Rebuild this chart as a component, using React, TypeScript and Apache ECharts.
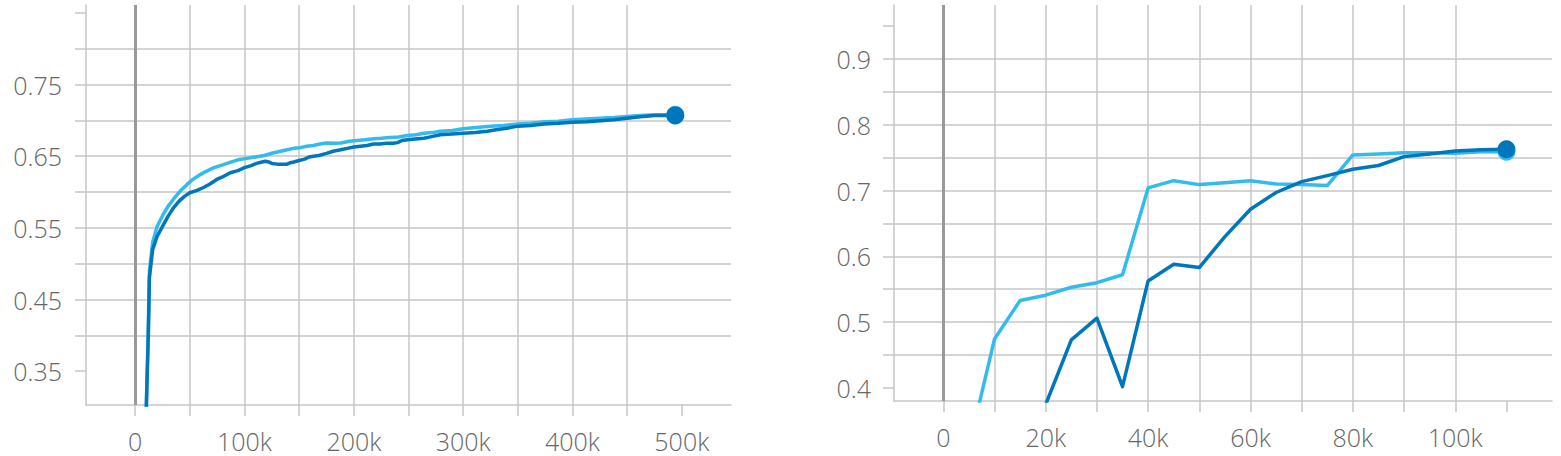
import React, { useEffect, useRef } from "react";
import * as echarts from "echarts";

// Steps are in thousands (k)
const leftDark: [number, number][] = [
  [10, 0.29], [12, 0.40], [13, 0.48], [16, 0.52], [20, 0.538], [25, 0.552], [30, 0.566], [35, 0.578],
  [40, 0.587], [45, 0.594], [50, 0.599], [56, 0.602], [62, 0.606], [68, 0.611], [75, 0.618], [81, 0.622],
  [87, 0.627], [94, 0.630], [100, 0.634], [106, 0.637], [111, 0.640], [116, 0.642], [119, 0.643],
  [122, 0.642], [125, 0.640], [130, 0.639], [135, 0.639], [139, 0.639], [142, 0.641], [145, 0.642],
  [150, 0.644], [155, 0.646], [159, 0.649], [163, 0.650], [168, 0.651], [175, 0.654], [181, 0.657],
  [188, 0.659], [194, 0.661], [200, 0.663], [206, 0.664], [212, 0.665], [218, 0.667], [224, 0.667],
  [230, 0.668], [236, 0.668], [240, 0.669], [244, 0.672], [249, 0.673], [256, 0.674], [264, 0.675],
  [270, 0.677], [279, 0.680], [290, 0.681], [300, 0.682], [311, 0.683], [322, 0.685], [330, 0.687],
  [340, 0.689], [350, 0.692], [362, 0.693], [374, 0.695], [387, 0.696], [400, 0.6976], [413, 0.698],
  [426, 0.6996], [438, 0.701], [450, 0.703], [462, 0.705], [475, 0.707], [485, 0.707], [494, 0.707],
];

const leftLight: [number, number][] = [
  [10, 0.29], [12, 0.41], [13, 0.49], [16, 0.53], [20, 0.552], [25, 0.567], [30, 0.580], [35, 0.590],
  [41, 0.601], [47, 0.610], [53, 0.618], [59, 0.624], [65, 0.629], [72, 0.634], [78, 0.637], [86, 0.641],
  [94, 0.645], [102, 0.647], [110, 0.649], [118, 0.651], [126, 0.6546], [133, 0.657], [139, 0.659],
  [145, 0.661], [151, 0.662], [157, 0.664], [163, 0.665], [169, 0.667], [175, 0.6685], [182, 0.668],
  [188, 0.6685], [196, 0.671], [203, 0.672], [210, 0.673], [218, 0.6745], [225, 0.675], [233, 0.676],
  [241, 0.677], [249, 0.679], [257, 0.680], [264, 0.682], [272, 0.683], [279, 0.685], [290, 0.686],
  [300, 0.6885], [312, 0.690], [325, 0.692], [337, 0.693], [350, 0.695], [362, 0.696], [375, 0.698],
  [387, 0.699], [400, 0.701], [412, 0.702], [425, 0.703], [438, 0.704], [450, 0.7056], [462, 0.707],
  [475, 0.708], [485, 0.708], [494, 0.708],
];

const rightSteps = [5, 10, 15, 20, 25, 30, 35, 40, 45, 50, 55, 60, 65, 70, 75, 80, 85, 90, 95, 100, 105, 110];
const rightLight = [
  0.31, 0.4745, 0.533, 0.541, 0.553, 0.560, 0.572, 0.704, 0.715, 0.709, 0.712, 0.715, 0.710, 0.709,
  0.7075, 0.754, 0.7555, 0.7575, 0.7575, 0.7567, 0.759, 0.759,
];
const rightDark = [
  null, null, null, 0.375, 0.473, 0.506, 0.402, 0.5626, 0.588, 0.583, 0.630, 0.6716, 0.697, 0.7135,
  0.7227, 0.7323, 0.738, 0.7515, 0.7556, 0.760, 0.762, 0.7627,
];

const leftXTicks = [0, 50, 100, 150, 200, 250, 300, 350, 400, 450, 500];
const leftXLabels = [0, 100, 200, 300, 400, 500];
const leftYTicks = [0.35, 0.4, 0.45, 0.5, 0.55, 0.6, 0.65, 0.7, 0.75, 0.8, 0.85];
const leftYLabels = [0.35, 0.45, 0.55, 0.65, 0.75];
const rightXTicks = [0, 10, 20, 30, 40, 50, 60, 70, 80, 90, 100, 110];
const rightXLabels = [0, 20, 40, 60, 80, 100];
const rightYTicks = [0.4, 0.45, 0.5, 0.55, 0.6, 0.65, 0.7, 0.75, 0.8, 0.85, 0.9, 0.95];
const rightYLabels = [0.4, 0.5, 0.6, 0.7, 0.8, 0.9];

const DARK = "#0077bb";
const LIGHT = "#33bbee";
const GRID = "#c6c6c6";
const ZERO = "#999999";
const TEXT = "#666666";

const labelFont = {
  fontFamily: "'Open Sans', Roboto, 'Liberation Sans', sans-serif",
  fontWeight: 300 as any,
  fontSize: 25,
  color: TEXT,
};

function xAxis(gridIndex: number, min: number, max: number, step: number, ticks: number[], labels: number[]) {
  return {
    type: "value",
    gridIndex,
    min,
    max,
    minInterval: step,
    maxInterval: step,
    axisLine: { show: true, onZero: false, lineStyle: { color: GRID, width: 1.5 } },
    axisTick: { show: true, inside: false, length: 11, customValues: ticks, lineStyle: { color: GRID, width: 1.5 } },
    splitLine: { show: true, showMinLine: false, showMaxLine: false, lineStyle: { color: GRID, width: 1.5 } },
    axisLabel: {
      ...labelFont,
      margin: 23,
      customValues: labels,
      formatter: (v: number) => (v === 0 ? "0" : `${Math.round(v)}k`),
    },
  };
}

function yAxis(gridIndex: number, min: number, max: number, ticks: number[], labels: number[], digits: number, margin: number) {
  return {
    type: "value",
    gridIndex,
    min,
    max,
    minInterval: 0.05,
    maxInterval: 0.05,
    axisLine: { show: true, onZero: false, lineStyle: { color: GRID, width: 1.5 } },
    axisTick: { show: true, inside: false, length: 11, customValues: ticks, lineStyle: { color: GRID, width: 1.5 } },
    splitLine: { show: true, showMinLine: false, showMaxLine: false, lineStyle: { color: GRID, width: 1.5 } },
    axisLabel: {
      ...labelFont,
      margin,
      customValues: labels,
      formatter: (v: number) => v.toFixed(digits),
    },
  };
}

const zeroLine = {
  silent: true,
  symbol: ["none", "none"],
  label: { show: false },
  lineStyle: { color: ZERO, width: 3, type: "solid", opacity: 1 },
  emphasis: { disabled: true },
  data: [{ xAxis: 0 }],
};

export default function App() {
  const ref = useRef<HTMLDivElement>(null);
  useEffect(() => {
    if (!ref.current) return;
    const chart = echarts.init(ref.current, undefined, { renderer: "svg" });
    const rightLightData = rightSteps.map((s, i) => [s, rightLight[i]]);
    const rightDarkData = rightSteps.map((s, i) => [s, rightDark[i]]);
    const lastL = leftLight[leftLight.length - 1];
    const lastD = leftDark[leftDark.length - 1];
    const lastRL = rightLightData[rightLightData.length - 1];
    const lastRD = rightDarkData[rightDarkData.length - 1];
    const line = (data: any[], color: string, xi: number, z: number, extra: any = {}) => ({
      type: "line",
      xAxisIndex: xi,
      yAxisIndex: xi,
      data,
      symbol: "none",
      showSymbol: false,
      lineStyle: { color, width: 3.5, join: "round", cap: "round" },
      itemStyle: { color },
      emphasis: { disabled: true },
      z,
      ...extra,
    });
    const dot = (pt: any, color: string, xi: number, z: number) => ({
      type: "scatter",
      xAxisIndex: xi,
      yAxisIndex: xi,
      data: [pt],
      symbol: "circle",
      symbolSize: 18,
      itemStyle: { color, opacity: 1 },
      emphasis: { disabled: true },
      z,
    });
    chart.setOption({
      animation: false,
      backgroundColor: "#ffffff",
      grid: [
        { left: 86, right: 830, top: 5, bottom: 51, outerBoundsMode: "none", containLabel: false },
        { left: 894, right: 9, top: 5, bottom: 55, outerBoundsMode: "none", containLabel: false },
      ],
      xAxis: [
        xAxis(0, -45, 545, 50, leftXTicks, leftXLabels),
        xAxis(1, -9.64, 118.9, 10, rightXTicks, rightXLabels),
      ],
      yAxis: [
        yAxis(0, 0.3028, 0.8611, leftYTicks, leftYLabels, 2, 24),
        yAxis(1, 0.3802, 0.9819, rightYTicks, rightYLabels, 1, 23),
      ],
      series: [
        line(leftLight, LIGHT, 0, 2, { markLine: zeroLine }),
        line(leftDark, DARK, 0, 3),
        dot(lastL, LIGHT, 0, 4),
        dot(lastD, DARK, 0, 5),
        line(rightLightData, LIGHT, 1, 2, { markLine: zeroLine }),
        line(rightDarkData, DARK, 1, 3),
        dot(lastRL, LIGHT, 1, 4),
        dot(lastRD, DARK, 1, 5),
      ],
    });
    return () => chart.dispose();
  }, []);
  return (
    <div
      ref={ref}
      style={{ position: "fixed", left: 0, top: 0, width: 1561, height: 456, background: "#fff" }}
    />
  );
}
